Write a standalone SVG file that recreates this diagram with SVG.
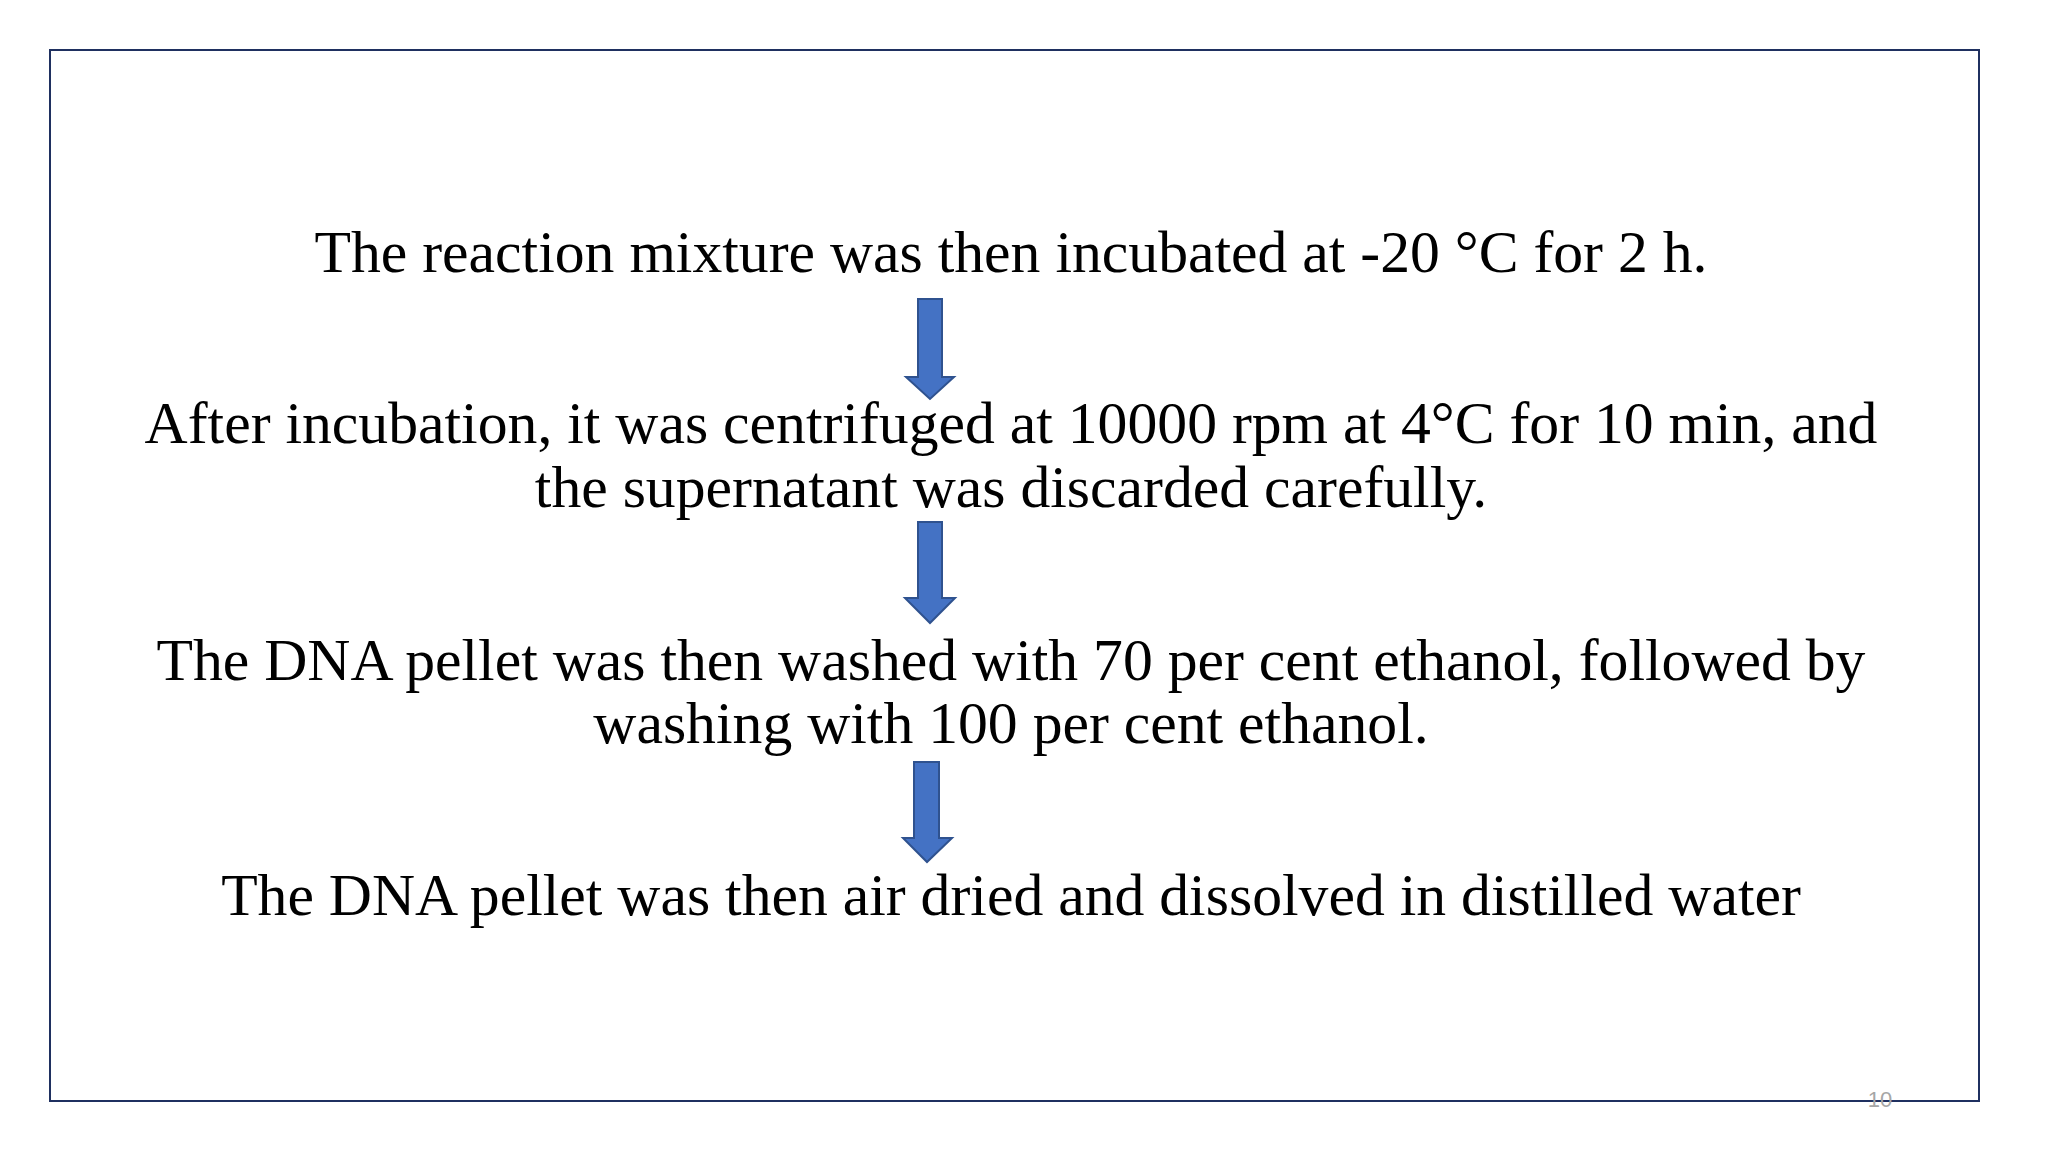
<svg xmlns="http://www.w3.org/2000/svg" width="2048" height="1152" viewBox="0 0 2048 1152">
<style>
.t{font-family:"Liberation Serif","Times New Roman",serif;font-size:59.7px;fill:#000;text-anchor:middle}
.arr{fill:#4472c4;stroke:#2f528f;stroke-width:2;stroke-linejoin:miter}
.pg{font-family:"Liberation Sans",Arial,sans-serif;font-size:22px;fill:#a6a6a6;text-anchor:middle}
</style>
<rect x="0" y="0" width="2048" height="1152" fill="#fff"/>
<rect x="50" y="50" width="1929" height="1051" fill="none" stroke="#1f3060" stroke-width="2"/>
<g id="step1"><text class="t" x="1011" y="272">The reaction mixture was then incubated at -20 °C for 2 h.</text></g>
<g id="step2"><text class="t" x="1011" y="443">After incubation, it was centrifuged at 10000 rpm at 4°C for 10 min, and</text><text class="t" x="1011" y="507">the supernatant was discarded carefully.</text></g>
<g id="step3"><text class="t" x="1011" y="680">The DNA pellet was then washed with 70 per cent ethanol, followed by</text><text class="t" x="1011" y="743">washing with 100 per cent ethanol.</text></g>
<g id="step4"><text class="t" x="1011" y="915">The DNA pellet was then air dried and dissolved in distilled water</text></g>
<g id="connectors">
<polygon class="arr" points="918,299 942,299 942,377 954,377 930,399 906,377 918,377"/>
<polygon class="arr" points="918,522 942,522 942,598 955,598 930,623 905,598 918,598"/>
<polygon class="arr" points="914,762 939,762 939,838 952,838 927,862 903,838 914,838"/>
</g>
<text class="pg" x="1880" y="1107">10</text>
</svg>
